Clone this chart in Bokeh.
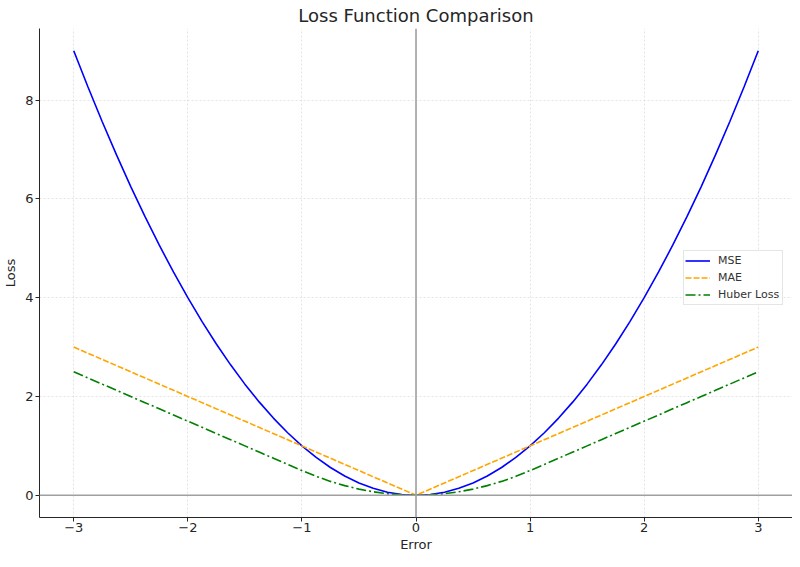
from bokeh.plotting import figure
from bokeh.models import Span, Legend, LegendItem, FixedTicker, Range1d, Title
from bokeh.embed import file_html
from bokeh.resources import INLINE

# Data
errors = [-3.0, -2.875, -2.75, -2.625, -2.5, -2.375, -2.25, -2.125, -2.0, -1.875, -1.75, -1.625,
          -1.5, -1.375, -1.25, -1.125, -1.0, -0.875, -0.75, -0.625, -0.5, -0.375, -0.25, -0.125,
          0.0, 0.125, 0.25, 0.375, 0.5, 0.625, 0.75, 0.875, 1.0, 1.125, 1.25, 1.375, 1.5, 1.625,
          1.75, 1.875, 2.0, 2.125, 2.25, 2.375, 2.5, 2.625, 2.75, 2.875, 3.0]
mse = [9.0, 8.265625, 7.5625, 6.890625, 6.25, 5.640625, 5.0625, 4.515625, 4.0, 3.515625, 3.0625,
       2.640625, 2.25, 1.890625, 1.5625, 1.265625, 1.0, 0.765625, 0.5625, 0.390625, 0.25, 0.140625,
       0.0625, 0.015625, 0.0, 0.015625, 0.0625, 0.140625, 0.25, 0.390625, 0.5625, 0.765625, 1.0,
       1.265625, 1.5625, 1.890625, 2.25, 2.640625, 3.0625, 3.515625, 4.0, 4.515625, 5.0625,
       5.640625, 6.25, 6.890625, 7.5625, 8.265625, 9.0]
huber = [2.5, 2.375, 2.25, 2.125, 2.0, 1.875, 1.75, 1.625, 1.5, 1.375, 1.25, 1.125, 1.0, 0.875,
         0.75, 0.625, 0.5, 0.3828125, 0.28125, 0.1953125, 0.125, 0.0703125, 0.03125, 0.0078125,
         0.0, 0.0078125, 0.03125, 0.0703125, 0.125, 0.1953125, 0.28125, 0.3828125, 0.5, 0.625,
         0.75, 0.875, 1.0, 1.125, 1.25, 1.375, 1.5, 1.625, 1.75, 1.875, 2.0, 2.125, 2.25, 2.375, 2.5]
mae_errors = [-3.0, 0.0, 3.0]
mae = [3.0, 0.0, 3.0]
x_ticks = [-3, -2, -1, 0, 1, 2, 3]
x_tick_labels = ["\u22123", "\u22122", "\u22121", "0", "1", "2", "3"]
y_ticks = [0, 2, 4, 6, 8]

FONT = "DejaVu Sans"

p = figure(width=792, height=551, output_backend="svg", toolbar_location=None,
           title="Loss Function Comparison",
           x_range=Range1d(-3.3, 3.3), y_range=Range1d(-0.45, 9.45),
           min_border_left=10, min_border_right=0, min_border_top=0, min_border_bottom=0)

p.title.align = "center"
p.title.text_font = FONT
p.title.text_font_size = "18px"
p.title.text_font_style = "normal"
p.title.text_color = "#262626"
p.title.offset = 0
p.title.standoff = 5

p.outline_line_color = None
p.background_fill_color = "white"
p.border_fill_color = "white"

for ax in (p.xaxis[0], p.yaxis[0]):
    ax.axis_line_color = "#262626"
    ax.axis_line_width = 1
    ax.major_tick_line_color = "#262626"
    ax.major_tick_out = 4
    ax.major_tick_in = 0
    ax.minor_tick_line_color = None
    ax.major_label_text_font = FONT
    ax.major_label_text_font_size = "13px"
    ax.major_label_text_color = "#262626"
    ax.axis_label_text_font = FONT
    ax.axis_label_text_font_size = "13px"
    ax.axis_label_text_font_style = "normal"
    ax.axis_label_text_color = "#262626"
    ax.major_label_standoff = 2

p.xaxis[0].major_label_standoff = 1
p.yaxis[0].axis_label_standoff = 4
p.xaxis[0].ticker = FixedTicker(ticks=x_ticks)
p.xaxis[0].major_label_overrides = {t: l for t, l in zip(x_ticks, x_tick_labels)}
p.yaxis[0].ticker = FixedTicker(ticks=y_ticks)
p.yaxis[0].axis_label = "Loss"

# x-axis title as a compact panel below the axis
xtitle = Title(text="Error", align="center", text_font=FONT, text_font_size="13px",
               text_font_style="normal", text_color="#262626", offset=0, standoff=0)
p.add_layout(xtitle, "below")

for g in (p.xgrid[0], p.ygrid[0]):
    g.grid_line_color = "#d9d9d9"
    g.grid_line_dash = "2 2"
    g.grid_line_width = 1
    g.grid_line_alpha = 0.7

p.add_layout(Span(location=0, dimension="width", line_color="#a0a0a0", line_width=1.6))
p.add_layout(Span(location=0, dimension="height", line_color="#a0a0a0", line_width=1.6))

r1 = p.line(errors, mse, line_color="blue", line_width=1.6)
r2 = p.line(mae_errors, mae, line_color="orange", line_width=1.6, line_dash="6 2")
r3 = p.line(errors, huber, line_color="green", line_width=1.6, line_dash="10 3 2 3")

legend = Legend(items=[LegendItem(label="MSE", renderers=[r1]),
                       LegendItem(label="MAE", renderers=[r2]),
                       LegendItem(label="Huber Loss", renderers=[r3])],
                location=(644, 212))
legend.label_text_font = FONT
legend.label_text_font_size = "11px"
legend.label_text_color = "#333333"
legend.glyph_width = 25
legend.glyph_height = 17
legend.label_height = 17
legend.label_width = 63
legend.label_standoff = 8
legend.spacing = 0
legend.padding = 1
legend.margin = 0
legend.border_line_color = "#cccccc"
legend.border_line_width = 1
legend.background_fill_color = "white"
legend.background_fill_alpha = 0.85
p.add_layout(legend, "center")

open("out.html", "w").write(file_html(p, INLINE))
